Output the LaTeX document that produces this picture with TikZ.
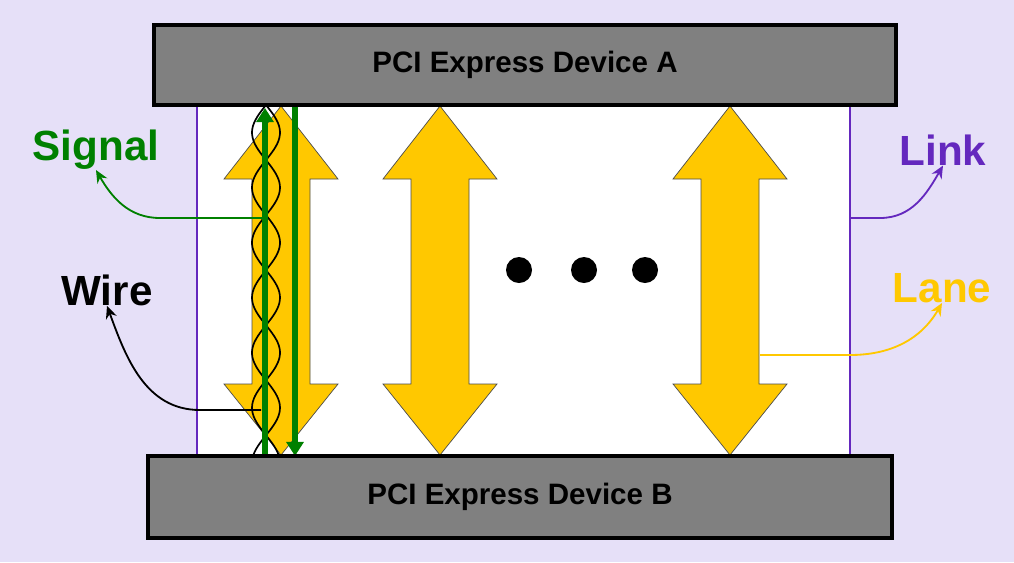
\documentclass[tikz,border=0pt]{standalone}
\usepackage{fontspec}
\setmainfont{Liberation Sans}
\usetikzlibrary{arrows.meta}
\definecolor{bgpurple}{RGB}{230,224,248}
\definecolor{lanegold}{RGB}{255,200,0}
\definecolor{linkpurple}{RGB}{100,40,190}
\definecolor{sigreen}{RGB}{0,128,0}
\definecolor{devgray}{RGB}{128,128,128}
\tikzset{
	device/.style = {draw=black, line width=2.5pt, fill=devgray,
		font=\bfseries\fontsize{21}{24}\selectfont, inner sep=0pt},
	label/.style  = {font=\bfseries\fontsize{30}{34}\selectfont, inner sep=0pt},
	callout/.style = {line width=1.3pt, -{Stealth[length=9pt,width=8pt]}},
	lanearrow/.style = {draw=black!70, line width=0.5pt, fill=lanegold},
	sigarrow/.style = {sigreen, line width=4pt, -{Triangle[length=10pt,width=12pt]}}
}
% one double arrow lane, #1 = centre x
\newcommand{\lanearrow}[1]{
	\path[lanearrow] (#1,106) -- (#1+57,179) -- (#1+29,179) -- (#1+29,384)
		-- (#1+57,384) -- (#1,455) -- (#1-57,384) -- (#1-29,384)
		-- (#1-29,179) -- (#1-57,179) -- cycle;
}
\begin{document}
\begin{tikzpicture}[x=0.025cm, y=-0.025cm]
\fill[bgpurple] (0,0) rectangle (1014,562);
\useasboundingbox (0,0) rectangle (1014,562);
% link area
\fill[white] (197,105) rectangle (850,458);
\draw[linkpurple, line width=2pt] (197,105) -- (197,458);
\draw[linkpurple, line width=2pt] (850,105) -- (850,458);
% lanes
\lanearrow{281}
\lanearrow{440}
\lanearrow{730}
% wire pair
\draw[black, line width=1.2pt, domain=105:458, samples=120, smooth]
	plot ({266+14*sin(3.27*(\x-105))}, \x);
\draw[black, line width=1.2pt, domain=105:458, samples=120, smooth]
	plot ({266-14*sin(3.27*(\x-105))}, \x);
% signals
\coordinate (up0) at (265,458);
\coordinate (up1) at (265,108);
\coordinate (dn0) at (295,106);
\coordinate (dn1) at (295,456);
\draw[sigarrow] (up0) -- (up1);
\draw[sigarrow] (dn0) -- (dn1);
% dots
\foreach \d in {519,584,645}
	\fill (\d,270) circle (13);
% devices
\node[device, minimum width=742*0.025cm, minimum height=80*0.025cm] (devA) at (525,65) {PCI Express Device A};
\node[device, minimum width=744*0.025cm, minimum height=82*0.025cm] (devB) at (520,497) {PCI Express Device B};
% labels
\node[label, text=sigreen] (signal) at (96,150) {Signal};
\node[label, text=black] (wire) at (107,290) {Wire};
\node[label, text=linkpurple] (link) at (943,150) {Link};
\node[label, text=lanegold] (lane) at (942,288) {Lane};
% callouts
\coordinate (sigpt) at (262,218);
\coordinate (wirept) at (261,410);
\coordinate (linkpt) at (850,218);
\coordinate (lanept) at (760,355);
\draw[callout, sigreen] (sigpt) -- (160,218) to[out=180, in=-60] (signal.south);
\draw[callout, black] (wirept) -- (200,410) to[out=180, in=-70] (wire.south);
\draw[callout, linkpurple] (linkpt) -- (880,218) to[out=0, in=-120] (link.south);
\draw[callout, lanegold] (lanept) -- (850,355) to[out=0, in=-120] (lane.south);
\end{tikzpicture}
\end{document}
